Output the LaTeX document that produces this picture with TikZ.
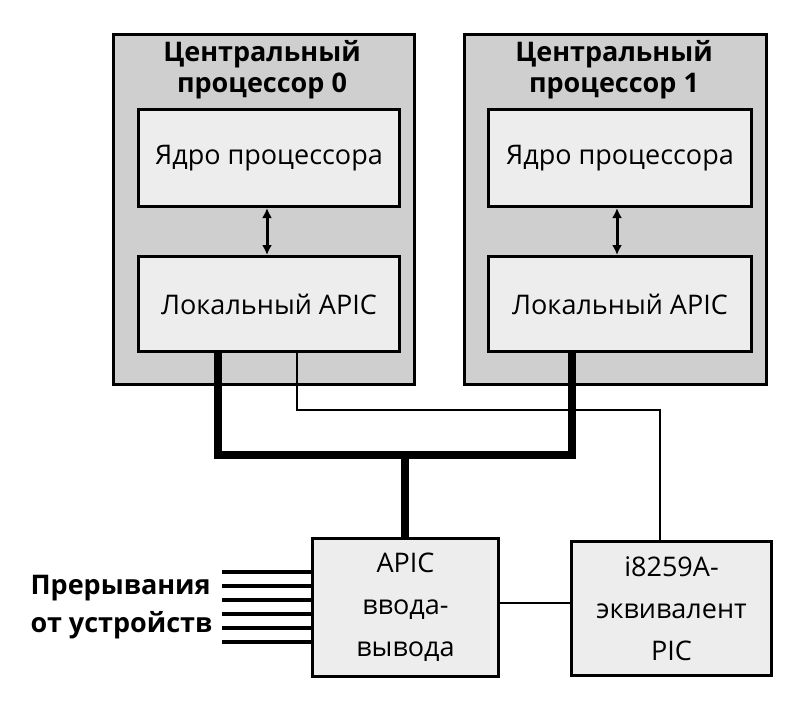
\documentclass[tikz,border=0pt]{standalone}
\usepackage{fontspec}
\setmainfont{Open Sans}
\usetikzlibrary{arrows.meta}
\begin{document}
\begin{tikzpicture}[x=1pt,y=-1pt,
  cpu/.style={draw,line width=3pt,fill=black!19},
  box/.style={draw,line width=3pt,fill=black!7,align=center,font=\fontsize{27}{36}\selectfont},
  title/.style={font=\bfseries\fontsize{27}{31}\selectfont,align=center},
  bus/.style={line width=8pt},
  thin/.style={line width=2.5pt},
  dbl/.style={line width=3pt,{Latex[length=10pt,width=10pt]}-{Latex[length=10pt,width=10pt]}}]
\useasboundingbox (0,0) rectangle (808,710);
\node[cpu,minimum width=301,minimum height=350,anchor=north west] (c0) at (112,33) {};
\node[cpu,minimum width=302,minimum height=350,anchor=north west] (c1) at (463,33) {};
\node[title] (t0) at (262,70) {Центральный\\процессор 0};
\node[title] (t1) at (614,70) {Центральный\\процессор 1};
\node[box,minimum width=261,minimum height=97,anchor=north west] (k0) at (137,108) {Ядро процессора};
\node[box,minimum width=261,minimum height=95,anchor=north west] (l0) at (137,255) {Локальный APIC};
\node[box,minimum width=263,minimum height=97,anchor=north west] (k1) at (487,108) {Ядро процессора};
\node[box,minimum width=263,minimum height=95,anchor=north west] (l1) at (487,255) {Локальный APIC};
\draw[dbl] (k0.south -| 267,0) -- (l0.north -| 267,0);
\draw[dbl] (k1.south -| 617,0) -- (l1.north -| 617,0);
\node[box,minimum width=186,minimum height=138,anchor=north west,font=\fontsize{27}{42}\selectfont] (io) at (311,537) {APIC\\ввода-\\вывода};
\node[box,minimum width=200,minimum height=134,anchor=north west,font=\fontsize{27}{42}\selectfont] (pic) at (570,540) {i8259A-\\эквивалент\\PIC};
\coordinate (j) at (405,455);
\draw[bus] (l0.south -| 218,0) |- (j) -| (l1.south -| 572,0);
\draw[bus] (j) -- (io.north -| 405,0);
\draw[thin] (l0.south -| 297,0) |- (660,410) -- (pic.north -| 660,0);
\draw[thin] (io.east |- 0,603) -- (pic.west |- 0,603);
\foreach \y in {572,586,600,614,628,642}{\coordinate (s\y) at (222,\y); \draw[line width=3.5pt] (s\y) -- (io.west |- s\y);}
\node[font=\bfseries\fontsize{27}{38}\selectfont,align=left,anchor=east] (lab) at (216,607) {Прерывания\\от устройств};
\end{tikzpicture}
\end{document}
